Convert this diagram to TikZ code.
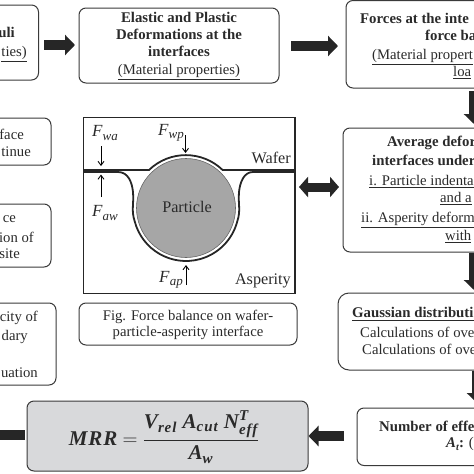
\documentclass[tikz,border=0pt]{standalone}
\usepackage{amsmath}
\usepackage{fontspec}
\setmainfont{Liberation Serif}
\usetikzlibrary{arrows.meta}
\definecolor{boxedge}{HTML}{3A3A3A}
\definecolor{txtgray}{HTML}{2A2A2A}
\definecolor{mrrfill}{HTML}{D8D9DB}
\newcommand{\forcelab}[2]{\textit{#1}\raisebox{-3.5pt}{\fontsize{13}{13}\selectfont\textit{#2}}}
\newcommand{\mrrmain}[1]{\hbox{\bfseries\itshape\addfontfeature{LetterSpace=4} #1}}
\newcommand{\mrrsub}[1]{\hbox{\fontsize{15}{15}\selectfont\bfseries\itshape\addfontfeature{LetterSpace=6} #1}}
\tikzset{
    flowbox/.style={draw=boxedge,line width=1pt,rounded corners=7pt},
    boxtext/.style={font=\fontsize{14.7}{16.8}\selectfont,text=txtgray,inner sep=0pt},
    boldtext/.style={boxtext,font=\fontsize{14.8}{16.6}\selectfont\bfseries},
    picttext/.style={boxtext,font=\fontsize{16.2}{16}\selectfont},
    force/.style={boxtext,font=\fontsize{17}{17}\selectfont},
    fatarrow/.style={line width=9.5pt,draw=black!85,-{Triangle[length=10pt,width=20pt]}},
    dblarrow/.style={line width=9pt,draw=black!85,{Triangle[length=9pt,width=20pt]}-{Triangle[length=9pt,width=20pt]}},
    thinarrow/.style={line width=0.9pt,-{Straight Barb[length=4pt,width=6pt]}},
    thickline/.style={line width=1.8pt,draw=black!85}
}
\begin{document}
\begin{tikzpicture}[x=1pt,y=-1pt]
    \useasboundingbox (0,0) rectangle (474,474);
    \clip (0,0) rectangle (474,474);

    % top row
    \draw[flowbox] (-20,5) rectangle (38.5,80);
    \node[boldtext,anchor=east] (lameText) at (15,32) {uli};
    \node[boxtext,anchor=east] (propText) at (27,54) {\underline{ties)}};
    \draw[flowbox] (79,8) rectangle (279,83);
    \node[boldtext,align=center] (elasticText) at (179,34.5) {Elastic and Plastic\\Deformations at the\\interfaces};
    \node[boxtext] (elasticProp) at (179,72) {\underline{(Material properties)}};
    \draw[flowbox] (346,0.5) rectangle (500,88);
    \node[boldtext,anchor=west] (forcesText) at (360,18) {Forces at the inte};
    \node[boldtext,anchor=west] (forcesText2) at (425,35) {force ba};
    \node[boxtext,anchor=west] (forcesProp) at (372,57) {\underline{(Material propert}};
    \node[boxtext,anchor=west] (forcesLoad) at (453,73) {\underline{loa}};

    % left column
    \draw[flowbox] (-20,118) rectangle (51,165);
    \node[boxtext,anchor=east] (surfText) at (24,134) {face};
    \node[boxtext,anchor=east] (contText) at (31,152) {tinue};
    \draw[flowbox] (-20,204) rectangle (51,267);
    \node[boxtext,anchor=east] (siteTextA) at (16,219) {ce};
    \node[boxtext,anchor=east] (siteTextB) at (34,237) {ion of};
    \node[boxtext,anchor=east] (siteTextC) at (20,254) {site};
    \draw[flowbox] (-20,303) rectangle (56,385);
    \node[boxtext,anchor=east] (velText) at (38,318) {city of};
    \node[boxtext,anchor=east] (bndText) at (28,337) {dary};
    \node[boxtext,anchor=east] (eqnText) at (38,373) {uation};

    % force balance picture
    \draw[thickline] (83.5,117.5) rectangle (295,293.5);
    \filldraw[fill=black!35,draw=black!60,line width=0.6pt] (186,208) circle (49.5);
    \draw[thickline] (83.5,170) -- (149,170) arc[start angle=-134,end angle=-46,radius=53] -- (295,170);
    \draw[thickline] (83.5,172) -- (118,172) .. controls (128,172) and (132,182) .. (133,192) .. controls (134,205) and (131,210) .. (134.8,221.7) arc[start angle=165,end angle=15,radius=53] .. controls (241,210) and (238,205) .. (239,192) .. controls (240,182) and (244,172) .. (253,172) -- (295,172);
    \node[picttext] (particleText) at (187,207) {Particle};
    \node[picttext,anchor=east] (waferText) at (291,158) {Wafer};
    \node[picttext,anchor=east] (asperityText) at (291,281) {Asperity};
    \node[force] (fwa) at (105,133) {\forcelab{F}{wa}};
    \node[force] (fwp) at (171,133) {\forcelab{F}{wp}};
    \node[force] (faw) at (105,213) {\forcelab{F}{aw}};
    \node[force] (fap) at (171,280) {\forcelab{F}{ap}};
    \coordinate (fwaEnd) at (101,166);
    \coordinate (fwpEnd) at (185.5,153);
    \coordinate (fawEnd) at (101,174.5);
    \coordinate (fapEnd) at (186,265);
    \draw[thinarrow] (101,146) -- (fwaEnd);
    \draw[thinarrow] (185.5,135) -- (fwpEnd);
    \draw[thinarrow] (101,197) -- (fawEnd);
    \draw[thinarrow] (186,285) -- (fapEnd);

    \draw[flowbox] (79,303) rectangle (297,345);
    \node[boxtext,align=center] (figText) at (188,325) {Fig. Force balance on wafer-\\particle-asperity interface};

    % right column
    \draw[flowbox] (343,128) rectangle (500,252);
    \node[boldtext,anchor=west] (avgText) at (387,143) {Average defor};
    \node[boldtext,anchor=west] (avgText2) at (372,160) {interfaces under};
    \node[boxtext,anchor=west] (avgItem) at (369,182) {\underline{i. Particle indenta}};
    \node[boxtext,anchor=west] (avgItem2) at (440,199) {\underline{and a}};
    \node[boxtext,anchor=west] (avgItem3) at (361,220) {\underline{ii. Asperity deform}};
    \node[boxtext,anchor=west] (avgItem4) at (445,237) {\underline{with}};

    \draw[flowbox,rounded corners=11pt] (338,293) rectangle (500,370);
    \node[boldtext,anchor=west] (gaussText) at (352,314) {\underline{Gaussian distributi}};
    \node[boxtext,anchor=west] (calcA) at (360,332) {Calculations of ove};
    \node[boxtext,anchor=west] (calcB) at (362,349) {Calculations of ove};

    \draw[flowbox] (357,408) rectangle (500,465.5);
    \node[boldtext,anchor=west] (numText) at (379,426) {Number of effe};
    \node[boldtext,anchor=west] (areaText) at (446,444) {\textit{A}\raisebox{-3pt}{\fontsize{10}{10}\selectfont\textit{t}}: \textmd{(}};

    % MRR box
    \node[flowbox,fill=mrrfill,minimum width=281pt,minimum height=70pt] (mrrBox) at (167.5,436) {};
    \node[font=\fontsize{21}{21}\selectfont,text=txtgray,inner sep=0pt] (mrrText) at (164,437) {\mrrmain{MRR} $=$ $\dfrac{\mrrmain{V}_{\mrrsub{rel}}\;\mrrmain{A}_{\mrrsub{cut}}\;\mrrmain{N}_{\mrrsub{eff}}^{\mrrsub{T}}}{\mrrmain{A}_{\mrrsub{w}}}$};

    % arrows between boxes
    \coordinate (leftIn) at (-2,435);
    \coordinate (leftEnd) at (25,435);
    \coordinate (topA) at (44,45);
    \coordinate (topB) at (75,45);
    \coordinate (topC) at (291,46);
    \coordinate (topD) at (338,46);
    \draw[fatarrow] (topA) -- (topB);
    \draw[fatarrow] (topC) -- (topD);
    \draw[fatarrow] (474,91) -- (474,124);
    \draw[dblarrow] (299,187) -- (339,187);
    \draw[fatarrow] (474,253) -- (474,290);
    \draw[fatarrow] (477,371) -- (477,403);
    \draw[fatarrow] (344,436) -- (308.5,436);
    \draw[line width=9.5pt,draw=black!85] (leftIn) -- (leftEnd);
\end{tikzpicture}
\end{document}
